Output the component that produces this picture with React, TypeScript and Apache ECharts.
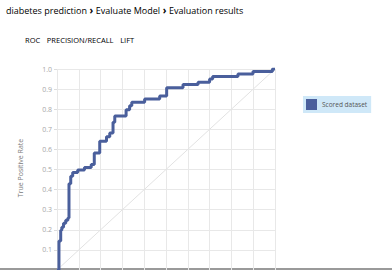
import React, { useEffect, useRef } from "react";
import * as echarts from "echarts";

const headerParts = ["diabetes prediction", "Evaluate Model", "Evaluation results"];
const tabs = ["ROC", "PRECISION/RECALL", "LIFT"];
const seriesName = "Scored dataset";
const yAxisTitle = "True Positive Rate";

// ROC curve vertices (false positive rate, true positive rate)
const fpr = [0, 0.009, 0.009, 0.017, 0.017, 0.022, 0.022, 0.03, 0.03, 0.04, 0.04, 0.05, 0.05, 0.055, 0.055, 0.063, 0.063, 0.072, 0.072, 0.095, 0.095, 0.126, 0.126, 0.157, 0.157, 0.171, 0.171, 0.196, 0.196, 0.227, 0.227, 0.242, 0.242, 0.257, 0.257, 0.265, 0.265, 0.317, 0.317, 0.333, 0.333, 0.343, 0.343, 0.402, 0.402, 0.471, 0.471, 0.503, 0.503, 0.578, 0.578, 0.647, 0.647, 0.7, 0.7, 0.714, 0.714, 0.83, 0.83, 0.899, 0.899, 0.988, 0.988, 1];
const tpr = [0, 0, 0.144, 0.144, 0.198, 0.198, 0.213, 0.213, 0.232, 0.232, 0.247, 0.247, 0.259, 0.259, 0.429, 0.429, 0.467, 0.467, 0.485, 0.485, 0.498, 0.498, 0.51, 0.51, 0.525, 0.525, 0.582, 0.582, 0.64, 0.64, 0.663, 0.663, 0.682, 0.682, 0.735, 0.735, 0.766, 0.766, 0.797, 0.797, 0.817, 0.817, 0.835, 0.835, 0.851, 0.851, 0.866, 0.866, 0.907, 0.907, 0.923, 0.923, 0.934, 0.934, 0.95, 0.95, 0.963, 0.963, 0.975, 0.975, 0.988, 0.988, 1, 1];
const diagonal = [[0, 0], [1, 1]];

const FONT = "'Open Sans', 'Noto Sans', sans-serif";
const LINE_COLOR = "#4a5f9c";

export default function App() {
  const ref = useRef<HTMLDivElement>(null);

  useEffect(() => {
    if (!ref.current) return;
    const chart = echarts.init(ref.current, undefined, { renderer: "svg" });
    const option: any = {
      animation: false,
      textStyle: { fontFamily: FONT },
      grid: { left: 57, top: 69, width: 218, height: 217 },
      xAxis: {
        type: "value",
        min: 0,
        max: 1,
        interval: 0.1,
        axisLine: { show: false },
        axisTick: { show: false },
        axisLabel: { show: false },
        splitLine: { show: true, lineStyle: { color: "#e8e8e8", width: 1 } },
      },
      yAxis: {
        type: "value",
        min: 0,
        max: 1,
        interval: 0.1,
        axisLine: { show: false },
        axisTick: { show: true, length: 3, lineStyle: { color: "#dddddd" } },
        axisLabel: {
          color: "#a8a8a8",
          fontSize: 7,
          margin: 5,
          fontFamily: FONT,
          showMinLabel: false,
          formatter: (v: number) => v.toFixed(1),
        },
        splitLine: { show: true, lineStyle: { color: "#e8e8e8", width: 1 } },
      },
      legend: {
        data: [seriesName],
        left: 303,
        top: 96,
        padding: [3, 4, 3, 3],
        itemWidth: 11,
        itemHeight: 11,
        itemGap: 4,
        icon: "rect",
        backgroundColor: "#cfe8f8",
        textStyle: { fontSize: 6.5, color: "#555", fontFamily: FONT },
      },
      series: [
        {
          type: "line",
          name: "diagonal",
          data: diagonal,
          symbol: "none",
          silent: true,
          lineStyle: { color: "#e2e2e2", width: 1 },
          z: 1,
        },
        {
          type: "line",
          name: seriesName,
          data: fpr.map((x, i) => [x, tpr[i]]),
          symbol: "none",
          lineStyle: { color: LINE_COLOR, width: 3 },
          itemStyle: { color: LINE_COLOR },
          z: 3,
        },
      ],
      graphic: [
        {
          type: "text",
          left: 6,
          top: 5,
          style: {
            text: `{a|${headerParts[0]}}{s| › }{a|${headerParts[1]}}{s| › }{a|${headerParts[2]}}`,
            rich: {
              a: { fontSize: 9, color: "#808080", fontFamily: FONT },
              s: { fontSize: 10, color: "#333", fontWeight: "bold", fontFamily: FONT },
            },
          },
        },
        {
          type: "text",
          left: 25,
          top: 34,
          style: {
            text: `{on|${tabs[0]}}  {off|${tabs[1]}}  {off|${tabs[2]}}`,
            rich: {
              on: { fontSize: 7.5, color: "#555", fontFamily: FONT },
              off: { fontSize: 7.5, color: "#b8b0a8", fontFamily: FONT },
            },
          },
        },
        {
          type: "text",
          x: 20,
          y: 168,
          rotation: Math.PI / 2,
          style: {
            text: yAxisTitle,
            fontSize: 7,
            fill: "#777",
            fontFamily: FONT,
            align: "center",
            verticalAlign: "middle",
          },
        },
        {
          type: "rect",
          left: 0,
          top: 268,
          shape: { width: 392, height: 2 },
          style: { fill: "#9a9a9a" },
        },
      ],
    };
    chart.setOption(option);
    return () => chart.dispose();
  }, []);

  return (
    <div
      ref={ref}
      style={{ position: "fixed", left: 0, top: 0, width: 392, height: 270, overflow: "hidden", background: "#fff" }}
    />
  );
}
